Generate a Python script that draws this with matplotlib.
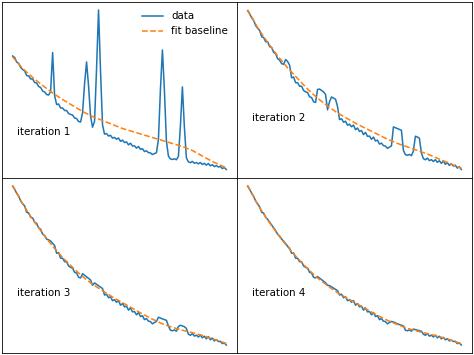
"""
Iterative polynomial baseline fit, shown as a 2x2 grid of iterations.
"""

import numpy as np
import matplotlib
matplotlib.use("Agg")
import matplotlib.pyplot as plt

# measured signal (iteration 1) and the clipped signal of later iterations
raw = [115, 113.5, 109, 107.5, 103.5, 101.5, 100, 95.5, 95, 92,
       92, 88.5, 88, 84.5, 83.5, 80, 79, 76.5, 76, 79.4,
       118.5, 75.4, 66.5, 67, 63, 63, 60.5, 60.5, 57.5, 56.5,
       56, 53, 52.5, 49.5, 49, 58.2, 87.2, 109, 85.2, 54.7,
       43.8, 49.6, 101.8, 161, 99.8, 46.1, 36.9, 37.5, 35, 35.7,
       32.9, 33.6, 31.8, 33, 29.7, 30.9, 28.5, 29.1, 26.2, 27.8,
       25, 25.2, 22.9, 24.5, 21.7, 22.3, 19.5, 20.2, 18.4, 18.1,
       16.5, 17.4, 18.2, 31.8, 81.4, 121, 80.4, 29.8, 15, 12,
       11.6, 12.2, 11.3, 14.6, 44.6, 84.1, 43.9, 13.2, 9.2, 8.4,
       9.6, 7.8, 8.5, 7.2, 8.5, 6.6, 7.7, 5.9, 7.5, 5.2,
       6.4, 4.4, 5.5, 4, 4.5, 2.5, 3.5, 1.5]

data2 = [114, 111.7, 109, 107.1, 103.5, 101.5, 100, 95.5, 95, 92,
         92, 88.5, 88, 84.5, 83.5, 80, 79, 76.5, 76, 79.4,
         78, 75.4, 66.5, 67, 63, 63, 60.5, 60.5, 57.5, 56.5,
         56, 53, 52.5, 49.5, 49, 58.2, 58.5, 57.5, 56.5, 54.7,
         43.8, 49.6, 52.9, 52.1, 51.3, 46.1, 36.9, 37.5, 35, 35.7,
         32.9, 33.6, 31.8, 33, 29.7, 30.9, 28.5, 29.1, 26.2, 27.8,
         25, 25.2, 22.9, 24.5, 21.7, 22.3, 19.5, 20.2, 18.4, 18.1,
         16.5, 17.4, 18.2, 31.7, 31.1, 30.5, 29.9, 29.3, 15, 12,
         11.6, 12.2, 11.3, 14.6, 25.1, 24.5, 23.7, 13.2, 9.2, 8.4,
         9.6, 7.8, 8.5, 7.2, 8.5, 6.6, 7.7, 5.9, 7.5, 5.2,
         6.4, 4.4, 5.5, 4, 4.5, 2.5, 3.5, 1.5]

data3 = [114, 111.7, 109, 107, 103.5, 101.5, 100, 95.5, 95, 92,
         91.5, 88.5, 87.7, 84.5, 83.5, 80, 79, 76.5, 76, 75.2,
         73.5, 72, 66.5, 67, 63, 63, 60.5, 60.5, 57.5, 56.5,
         56, 53, 52.5, 49.5, 49, 52, 50.9, 49.8, 48.7, 47.6,
         43.8, 45.5, 44.5, 43.5, 42.5, 41.5, 36.9, 37.5, 35, 35.7,
         32.9, 33.6, 31.8, 33, 29.7, 30.9, 28.5, 29.1, 26.2, 27.8,
         25, 25.2, 22.9, 24.5, 21.7, 22.3, 19.5, 20.2, 18.4, 18.1,
         16.5, 17.4, 18.2, 21.2, 20.6, 20, 19.5, 19, 15, 12,
         11.6, 12.2, 11.3, 14.6, 15.5, 15, 14.5, 13.2, 9.2, 8.4,
         9.6, 7.8, 8.5, 7.2, 8.5, 6.6, 7.7, 5.9, 7.5, 5.2,
         6.4, 4.4, 5.3, 4, 4.1, 2.5, 3, 1.5]

data4 = [114, 111.7, 109, 106.7, 103.5, 101.5, 99.3, 95.5, 94.9, 92,
         90.5, 88.5, 86.5, 84.5, 82.5, 80, 78.7, 76.5, 75.1, 73.3,
         71.5, 69.9, 66.5, 66.7, 63, 63, 60.5, 60.5, 57.5, 56.5,
         56, 53, 52.5, 49.5, 49, 50, 48.9, 47.8, 46.7, 45.6,
         43.8, 43.6, 42.7, 41.8, 40.9, 40, 36.9, 37.5, 35, 35.7,
         32.9, 33.6, 31.8, 33, 29.7, 30.9, 28.5, 29.1, 26.2, 27.8,
         25, 25.2, 22.9, 24.5, 21.7, 22.3, 19.5, 20.2, 18.4, 18.1,
         16.5, 17.4, 18.2, 17.8, 17.2, 16.5, 16, 15.5, 15, 12,
         11.6, 12.2, 11.3, 12.8, 12.4, 12, 11.6, 11.3, 9.2, 8.4,
         9.6, 7.8, 8.5, 7.2, 8.5, 6.6, 7.7, 5.9, 6.9, 5.2,
         6, 4.4, 5, 4, 4.1, 2.5, 3, 1.5]

# fitted baselines, sampled at every 5th point
base_idx = [0, 5, 10, 15, 20, 25, 30, 35, 40, 45, 50, 55, 60, 65, 70,
            75, 80, 85, 90, 95, 100, 105, 107]
base1 = [114, 102.5, 93.5, 85.5, 78, 71.5, 65.5, 59.5, 54.5, 50.5, 46.5,
         42.5, 39.5, 36.5, 33.5, 30.5, 27.5, 24.5, 20.5, 15, 9.5, 5, 3]
base2 = [114.5, 102, 91.5, 82, 73.5, 66, 58.5, 52, 46.5, 41.5, 37.5,
         33.5, 30, 26.5, 23, 20, 17.5, 15, 12.5, 9.5, 6.5, 3.5, 2.5]
base3 = [114.5, 101.5, 90.5, 80.5, 71.5, 63.5, 56.5, 50, 44.5, 40, 35.5,
         31.5, 27.5, 23.5, 19.8, 16.5, 14, 12, 10.2, 8.3, 6, 3.6, 2.6]
base4 = [114.5, 101, 90, 80, 71, 63, 55.5, 49, 43.5, 38.5, 34.5,
         30.5, 26.5, 22.5, 19, 16, 13.3, 11.3, 9.6, 7.8, 5.8, 3.4, 2.4]

labels = ["iteration 1", "iteration 2", "iteration 3", "iteration 4"]
label_y = [0.26, 0.34, 0.34, 0.34]


def main():
    x = np.arange(len(raw))
    signals = [raw, data2, data3, data4]
    baselines = [base1, base2, base3, base4]

    # default 6.4x4.8 figure, scaled down to 474x355 pixels
    fig, axes = plt.subplots(2, 2, figsize=(474 / 74, 355 / 74), dpi=74)
    fig.subplots_adjust(left=2 / 474, right=472 / 474, bottom=2 / 355,
                        top=353 / 355, wspace=0, hspace=0)

    for ax, y, base, lab, ly in zip(axes.flat, signals, baselines,
                                    labels, label_y):
        ax.plot(x, y, color="tab:blue", label="data")
        ax.plot(base_idx, base, "--", color="tab:orange",
                label="fit baseline")
        ax.text(0.065, ly, lab, transform=ax.transAxes, va="center")
        ax.set_xticks([])
        ax.set_yticks([])

    axes[0, 0].legend(loc="upper right", frameon=False)

    fig.savefig("out.png")


if __name__ == "__main__":
    main()
